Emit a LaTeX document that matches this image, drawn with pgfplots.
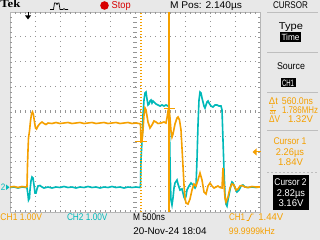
\documentclass[border=0pt]{standalone}
\usepackage{pgfplots}
\pgfplotsset{compat=1.18}
\usepackage{fontspec}
\setmainfont{Liberation Sans}
\newfontfamily\tekfont{Liberation Serif}
\usepackage{graphicx}
\definecolor{tekor}{RGB}{245,160,0}
\definecolor{tekcy}{RGB}{0,185,185}
\definecolor{tekbg}{RGB}{232,232,232}
\definecolor{tekgrid}{RGB}{150,150,150}
\definecolor{tekred}{RGB}{215,0,0}
\definecolor{teksep}{RGB}{190,190,190}
\newcommand\tw[3][6.8]{\resizebox{#2bp}{#1bp}{\fontsize{10bp}{10bp}\selectfont #3}}
\begin{document}
\begin{tikzpicture}
\fill[tekbg] (0,0) rectangle (320bp,240bp);
\begin{scope}[x=1bp,y=-1bp,shift={(0,240bp)}]
\fill[white] (10,12) rectangle (260,212);
\draw[tekgrid!70,line width=0.6bp] (10,12) rectangle (260,212);
% border ticks
\foreach \x in {15,20,...,255}{
  \draw[tekgrid,line width=0.6bp] (\x,12)--(\x,14);
  \draw[tekgrid,line width=0.6bp] (\x,212)--(\x,210);}
\foreach \y in {17,22,...,207}{
  \draw[tekgrid,line width=0.6bp] (10,\y)--(12,\y);
  \draw[tekgrid,line width=0.6bp] (260,\y)--(258,\y);}
% dotted grid
\foreach \x in {35,60,85,110,160,185,210,235}{
  \foreach \y in {17,22,...,207}{\fill[tekgrid] (\x-0.5,\y-0.5) rectangle ++(1,1);}}
\foreach \y in {37,62,87,137,162,187}{
  \foreach \x in {15,20,...,255}{\fill[tekgrid] (\x-0.5,\y-0.5) rectangle ++(1,1);}}
% centre cross ticks
\foreach \y in {17,22,...,207}{\draw[tekgrid,line width=0.8bp] (133,\y)--(137,\y);}
\foreach \x in {15,20,...,255}{\draw[tekgrid,line width=0.8bp] (\x,110.5)--(\x,113.5);}
\end{scope}

\begin{axis}[at={(10bp,28bp)},anchor=south west,scale only axis,
  width=250bp,height=200bp,xmin=-0.36,xmax=4.64,ymin=-1,ymax=7,
  axis line style={draw=none},ticks=none]
% CH2 (teal)
\addplot[tekcy,line width=1.6bp] coordinates {
(-0.36,-0.02)(-0.28,0.00)(-0.20,-0.04)(-0.12,0.00)(-0.04,-0.02)(-0.02,-0.04)
(0.00,-0.32)(0.01,-0.52)(0.03,-0.44)(0.04,-0.12)(0.06,0.24)(0.08,0.40)(0.10,0.36)
(0.12,0.08)(0.14,-0.24)(0.16,-0.24)(0.18,-0.08)(0.20,0.04)(0.24,0.06)(0.28,0.00)
(0.32,-0.04)(0.40,0.00)(0.48,-0.04)(0.56,0.00)(0.64,-0.02)(0.72,0.02)(0.80,-0.02)
(0.88,0.00)(0.96,-0.04)(1.04,0.00)(1.12,-0.02)(1.20,0.02)(1.28,-0.02)(1.36,0.00)
(1.44,-0.04)(1.52,0.00)(1.60,-0.02)(1.68,0.02)(1.76,-0.02)(1.84,0.00)(1.92,-0.04)
(2.00,0.00)(2.08,-0.02)(2.16,0.00)(2.24,-0.02)(2.25,0.04)(2.26,1.08)(2.27,1.48)
(2.29,2.20)(2.30,2.88)(2.32,3.48)(2.34,3.76)(2.36,3.80)(2.38,3.52)(2.40,3.28)
(2.42,3.32)(2.44,3.44)(2.46,3.48)(2.48,3.36)(2.50,3.44)(2.52,3.40)(2.56,3.32)
(2.60,3.28)(2.64,3.24)(2.68,3.28)(2.72,3.24)(2.76,3.28)(2.80,3.24)(2.82,3.20)
(2.83,2.28)(2.84,1.08)(2.85,0.08)(2.86,-0.52)(2.88,-0.72)(2.90,-0.44)(2.92,-0.04)
(2.94,0.16)(2.98,0.28)(3.00,0.12)(3.04,-0.12)(3.08,-0.08)(3.12,-0.40)(3.14,-0.48)
(3.16,-0.36)(3.18,-0.12)(3.22,0.04)(3.26,0.16)(3.30,0.08)(3.34,-0.04)(3.36,0.04)
(3.38,1.08)(3.40,2.48)(3.42,3.48)(3.44,3.80)(3.46,3.76)(3.48,3.56)(3.52,3.24)
(3.54,3.16)(3.56,3.28)(3.58,3.40)(3.60,3.44)(3.62,3.36)(3.66,3.24)(3.70,3.20)
(3.74,3.28)(3.78,3.28)(3.82,3.24)(3.86,3.24)(3.88,3.08)(3.90,1.88)(3.92,0.68)
(3.94,-0.32)(3.96,-0.68)(3.98,-0.76)(4.00,-0.52)(4.04,-0.12)(4.06,0.08)(4.08,0.20)
(4.10,0.16)(4.14,-0.04)(4.18,-0.20)(4.22,-0.12)(4.26,0.04)(4.30,0.08)(4.34,0.00)
(4.40,-0.02)(4.48,0.00)(4.56,-0.02)(4.64,0.00)};
% CH1 (orange)
\addplot[tekor,line width=1.6bp] coordinates {
(-0.36,0.00)(-0.28,0.02)(-0.20,-0.02)(-0.12,0.02)(-0.04,0.00)(-0.02,0.02)
(-0.01,0.88)(0.00,1.48)(0.01,1.96)(0.03,2.24)(0.05,2.64)(0.07,2.92)(0.09,3.00)
(0.11,2.88)(0.13,2.60)(0.15,2.36)(0.17,2.32)(0.20,2.44)(0.24,2.54)(0.28,2.60)
(0.32,2.54)(0.36,2.50)(0.40,2.56)(0.48,2.54)(0.56,2.58)(0.64,2.54)(0.72,2.56)
(0.80,2.58)(0.88,2.54)(0.96,2.56)(1.04,2.58)(1.12,2.54)(1.20,2.56)(1.28,2.58)
(1.36,2.54)(1.44,2.56)(1.52,2.58)(1.60,2.54)(1.68,2.56)(1.76,2.58)(1.84,2.54)
(1.92,2.56)(2.00,2.58)(2.08,2.54)(2.16,2.56)(2.22,2.54)(2.25,2.52)(2.26,1.84)
(2.28,1.84)(2.30,2.28)(2.32,2.88)(2.34,3.16)(2.36,3.08)(2.38,2.84)(2.40,2.60)
(2.44,2.36)(2.48,2.48)(2.52,2.64)(2.56,2.60)(2.60,2.54)(2.66,2.56)(2.72,2.60)
(2.76,2.56)(2.78,2.76)(2.80,3.04)(2.82,3.16)(2.84,2.76)(2.86,2.24)(2.88,2.00)
(2.90,2.12)(2.94,2.52)(2.98,2.76)(3.00,2.80)(3.03,2.68)(3.06,2.28)(3.08,1.56)
(3.10,0.84)(3.12,0.08)(3.14,-0.44)(3.16,-0.64)(3.20,-0.68)(3.24,-0.48)(3.28,-0.12)
(3.32,0.12)(3.36,0.04)(3.40,0.28)(3.44,0.56)(3.48,0.28)(3.52,-0.20)(3.56,-0.28)
(3.60,0.04)(3.64,0.16)(3.68,0.04)(3.72,-0.04)(3.76,0.00)(3.80,0.04)(3.84,-0.02)
(3.88,-0.04)(3.90,0.76)(3.92,0.08)(3.94,-0.44)(3.96,-0.60)(4.00,-0.40)(4.04,-0.04)
(4.08,0.12)(4.12,0.08)(4.16,-0.12)(4.20,-0.08)(4.24,0.04)(4.28,0.06)(4.34,0.00)
(4.40,-0.02)(4.48,0.02)(4.56,0.00)(4.64,0.00)};
% cursors
\addplot[tekor,line width=1.2bp,dash pattern=on 1.5bp off 1.5bp] coordinates {(2.26,-1)(2.26,7)};
\addplot[tekor,line width=1.1bp] coordinates {(2.82,-1)(2.82,7)};
\addplot[tekor,line width=1bp] coordinates {(2.14,1.84)(2.38,1.84)};
\addplot[tekor,line width=1bp] coordinates {(2.72,3.16)(2.94,3.16)};
\end{axis}

\begin{scope}[x=1bp,y=-1bp,shift={(0,240bp)},every node/.style={inner sep=0pt,outer sep=0pt,anchor=base west}]
% top bar
\node at (0.3,8) {\resizebox{20bp}{7.6bp}{\tekfont\bfseries Tek}};
\draw[black,line width=0.7bp] (50,9.5)--(53.5,9.5)--(54.5,3)--(56,3)--(57,4.5)--(58,3)--(59,3)--(60,9.5)--(63,9.5)--(64,8.5)--(65,9.5)--(68,9.5);
\fill[tekred] (104.5,5.5) circle (4.3);
\node[text=tekred] at (111.7,8.8) {\tw[7]{19}{Stop}};
\node at (170,9) {\tw{72}{M Pos: 2.140µs}};
\node at (273,9) {\tw{35}{CURSOR}};
\draw[teksep,line width=0.8bp] (267,12.5)--(318,12.5);
% trigger position arrow
\draw[black,line width=1bp] (28,12.5)--(28,16);
\fill[black] (25,15.5)--(31,15.5)--(28,19.5)--cycle;
% trigger level marker
\draw[tekor,line width=1bp] (256,152)--(261,152);
\fill[tekor] (256.5,148.5)--(256.5,155.5)--(252.5,152)--cycle;
% CH2 marker
\node[text=tekcy] at (0.8,190.5) {\tw[6.5]{4.5}{2}};
\fill[tekcy] (6,184.5)--(6,190)--(9.5,187.3)--cycle;
% side panel
\node at (279,30) {\tw{24}{Type}};
\fill[black] (279.5,32.5) rectangle (301,42.5);
\node[text=white] at (281.5,40.8) {\tw[6.5]{18}{Time}};
\draw[teksep,line width=0.8bp] (267,52)--(318,52);
\node at (277,69.5) {\tw{28}{Source}};
\fill[black] (280.5,78) rectangle (295.5,87.5);
\node[text=white] at (282,86.2) {\tw[6.5]{12}{CH1}};
\draw[teksep,line width=0.8bp] (267,92)--(318,92);
\node[text=tekor] at (269,104.5) {\tw{9}{Δt}};
\node[text=tekor] at (282,104.5) {\tw{31}{560.0ns}};
\node[text=tekor] at (271.5,109) {\tw[3.3]{2.2}{1}};
\draw[tekor,line width=0.6bp] (269.5,110)--(276,110);
\node[text=tekor] at (270,114.5) {\tw[3.3]{5.5}{Δt}};
\node[text=tekor] at (282,114) {\tw{36}{1.786MHz}};
\node[text=tekor] at (269,123) {\tw{11}{ΔV}};
\node[text=tekor] at (288,123) {\tw{25}{1.32V}};
\draw[teksep,line width=0.8bp] (267,130.5)--(318,130.5);
\node[text=tekor] at (273.5,145) {\tw{33}{Cursor 1}};
\node[text=tekor] at (276,155.5) {\tw{28}{2.26µs}};
\node[text=tekor] at (278,166) {\tw{25}{1.84V}};
\draw[teksep,line width=0.8bp,dash pattern=on 2bp off 2bp] (267,172.5)--(318,172.5);
\fill[black] (273,175) rectangle (308.5,210.5);
\node[text=white] at (274.5,185.5) {\tw{32}{Cursor 2}};
\node[text=white] at (277,196.5) {\tw{28}{2.82µs}};
\node[text=white] at (278.5,207) {\tw{25}{3.16V}};
% bottom
\node[text=tekor] at (0.5,221) {\tw{41.5}{CH1 1.00V}};
\node[text=tekcy] at (67,221) {\tw{40.5}{CH2 1.00V}};
\node at (133,221) {\tw{32}{M 500ns}};
\node[text=tekor] at (229,221) {\tw{16}{CH1}};
\draw[tekor,line width=0.8bp] (246.5,220.5)--(248.5,220.5)--(251.5,214)--(253.5,214);
\node[text=tekor] at (258.3,221) {\tw{25}{1.44V}};
\node at (133.3,235) {\tw{73.4}{20-Nov-24 18:04}};
\node[text=tekor] at (229,235) {\tw{46}{99.9999kHz}};
\end{scope}
\pgfresetboundingbox
\useasboundingbox (0,0) rectangle (320bp,240bp);
\end{tikzpicture}
\end{document}
